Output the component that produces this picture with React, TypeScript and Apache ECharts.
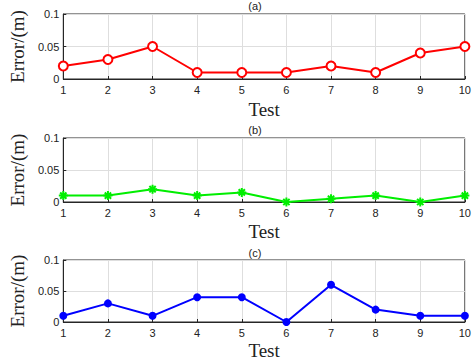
import React, { useEffect, useRef } from "react";
import * as echarts from "echarts";

const tests = [1, 2, 3, 4, 5, 6, 7, 8, 9, 10];
const errorA = [0.02, 0.03, 0.05, 0.01, 0.01, 0.01, 0.02, 0.01, 0.04, 0.05];
const errorB = [0.01, 0.01, 0.02, 0.01, 0.015, 0, 0.005, 0.01, 0, 0.01];
const errorC = [0.01, 0.03, 0.01, 0.04, 0.04, 0, 0.06, 0.02, 0.01, 0.01];
const panelTitles = ["(a)", "(b)", "(c)"];
const yTicks = [0, 0.05, 0.1];

const asterisk =
  "path://M0,-10L0,10M-10,0L10,0M-7,-7L7,7M-7,7L7,-7";

export default function App() {
  const ref = useRef<HTMLDivElement>(null);
  useEffect(() => {
    if (!ref.current) return;
    const chart = echarts.init(ref.current, undefined, { renderer: "svg" });
    const tops = [14, 138, 260];
    const heights = [65, 64, 65];
    const nameGaps = [21, 20, 19];
    const titleOffsets = [14, 14, 13];
    const grids = tops.map((t, i) => ({
      left: 43,
      right: 6,
      top: t,
      height: heights[i],
      show: true,
      borderColor: "#262626",
      borderWidth: 1,
      backgroundColor: "#fff",
    }));
    const xAxes = tops.map((_, i) => ({
      type: "value",
      gridIndex: i,
      min: 1,
      max: 10,
      interval: 1,
      name: "Test",
      nameLocation: "middle",
      nameGap: nameGaps[i],
      nameTextStyle: { fontFamily: "Liberation Serif", fontSize: 19, color: "#222" },
      axisLine: { show: true, lineStyle: { color: "#262626" } },
      axisTick: { show: true, inside: true, length: 3, lineStyle: { color: "#262626" } },
      axisLabel: { fontFamily: "Liberation Sans", fontSize: 11, color: "#222", margin: 5 },
      splitLine: { show: true, lineStyle: { color: "#dedede" } },
    }));
    const yAxes = tops.map((_, i) => ({
      type: "value",
      gridIndex: i,
      min: 0,
      max: 0.1,
      interval: 0.05,
      name: "Error/(m)",
      nameLocation: "middle",
      nameGap: 30,
      nameTextStyle: { fontFamily: "Liberation Serif", fontSize: 19, color: "#222" },
      axisLine: { show: true, lineStyle: { color: "#262626" } },
      axisTick: { show: true, inside: true, length: 3, lineStyle: { color: "#262626" } },
      axisLabel: {
        fontFamily: "Liberation Sans",
        fontSize: 11,
        color: "#222",
        margin: 4,
        formatter: (v: number) => {
          const f = yTicks.find((t) => Math.abs(t - v) < 1e-9);
          return f === undefined ? "" : String(f);
        },
      },
      splitLine: { show: true, lineStyle: { color: "#dedede" } },
    }));
    const titles = panelTitles.map((t, i) => ({
      text: t,
      left: 255,
      top: tops[i] - titleOffsets[i],
      padding: 0,
      textAlign: "center",
      textStyle: { fontFamily: "Liberation Sans", fontSize: 11, fontWeight: "normal", color: "#222" },
    }));
    const mk = (d: number[]) => tests.map((t, i) => [t, d[i]]);
    chart.setOption({
      animation: false,
      backgroundColor: "#fff",
      title: titles,
      grid: grids,
      xAxis: xAxes,
      yAxis: yAxes,
      series: [
        {
          type: "line",
          xAxisIndex: 0,
          yAxisIndex: 0,
          data: mk(errorA),
          symbol: "emptyCircle",
          symbolSize: 9,
          lineStyle: { color: "#ff0000", width: 2 },
          itemStyle: { color: "#ff0000", borderColor: "#ff0000", borderWidth: 2 },
        },
        {
          type: "line",
          xAxisIndex: 1,
          yAxisIndex: 1,
          data: mk(errorB),
          symbol: asterisk,
          symbolSize: 9,
          lineStyle: { color: "#00ee00", width: 2 },
          itemStyle: { color: "transparent", borderColor: "#00ee00", borderWidth: 2 },
        },
        {
          type: "line",
          xAxisIndex: 2,
          yAxisIndex: 2,
          data: mk(errorC),
          symbol: "circle",
          symbolSize: 8,
          lineStyle: { color: "#0000ff", width: 2 },
          itemStyle: { color: "#0000ff" },
        },
      ],
    });
    return () => chart.dispose();
  }, []);
  return <div ref={ref} style={{ width: 474, height: 361, position: "absolute", left: 0, top: 0 }} />;
}
